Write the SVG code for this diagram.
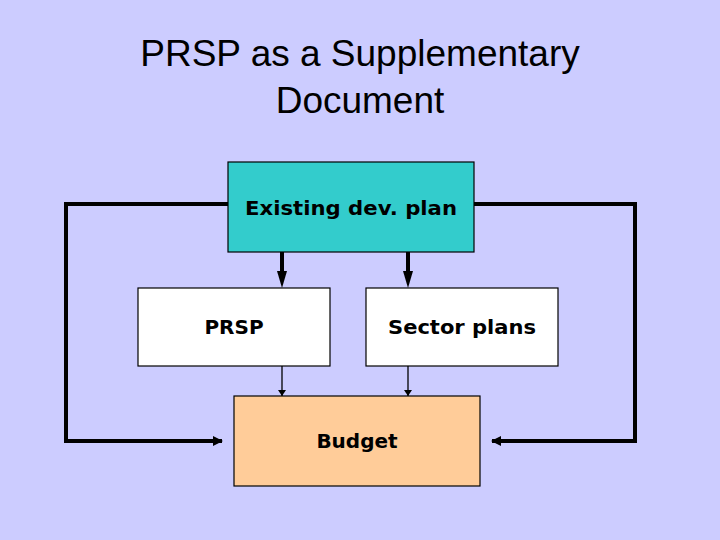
<svg xmlns="http://www.w3.org/2000/svg" width="720" height="540" viewBox="0 0 720 540">
<style>
.t{font-family:"Liberation Sans",Arial,sans-serif;font-size:37px;fill:#000;text-anchor:middle}
.l{font-family:"DejaVu Sans",Verdana,sans-serif;font-weight:bold;font-size:20px;fill:#000;text-anchor:middle}
.b{stroke:#000;stroke-width:1.2}
.thick{fill:none;stroke:#000;stroke-width:4}
.thin{fill:none;stroke:#000;stroke-width:1.3}
</style>
<defs>
<marker id="ah" markerWidth="10" markerHeight="10" refX="9" refY="5" orient="auto" markerUnits="userSpaceOnUse"><path d="M0,0 L10,5 L0,10 z" fill="#000"/></marker>
<marker id="as" markerWidth="6" markerHeight="8" refX="6" refY="4" orient="auto" markerUnits="userSpaceOnUse"><path d="M0,0 L6,4 L0,8 z" fill="#000"/></marker>
</defs>
<rect width="720" height="540" fill="#ccccff"/>
<text class="t" x="360" y="66">PRSP as a Supplementary</text>
<text class="t" x="360" y="113">Document</text>
<g id="connectors">
<polyline class="thick" points="228,204 66,204 66,441 222,441" marker-end="url(#ah)"/>
<polyline class="thick" points="474,204 635,204 635,441 492,441" marker-end="url(#ah)"/>
<line class="thick" x1="282" y1="252" x2="282" y2="275"/><path d="M277,271 L287,271 L282,288 z"/>
<line class="thick" x1="408" y1="252" x2="408" y2="275"/><path d="M403,271 L413,271 L408,288 z"/>
<line class="thin" x1="282" y1="366" x2="282" y2="396" marker-end="url(#as)"/>
<line class="thin" x1="408" y1="366" x2="408" y2="396" marker-end="url(#as)"/>
</g>
<g id="existing"><rect class="b" x="228" y="162" width="246" height="90" fill="#33cccc"/><text class="l" x="351" y="215" textLength="212" lengthAdjust="spacingAndGlyphs">Existing dev. plan</text></g>
<g id="prsp"><rect class="b" x="138" y="288" width="192" height="78" fill="#fff"/><text class="l" x="234" y="334">PRSP</text></g>
<g id="sector"><rect class="b" x="366" y="288" width="192" height="78" fill="#fff"/><text class="l" x="462" y="334" textLength="148" lengthAdjust="spacingAndGlyphs">Sector plans</text></g>
<g id="budget"><rect class="b" x="234" y="396" width="246" height="90" fill="#ffcc99"/><text class="l" x="357" y="448">Budget</text></g>
</svg>
